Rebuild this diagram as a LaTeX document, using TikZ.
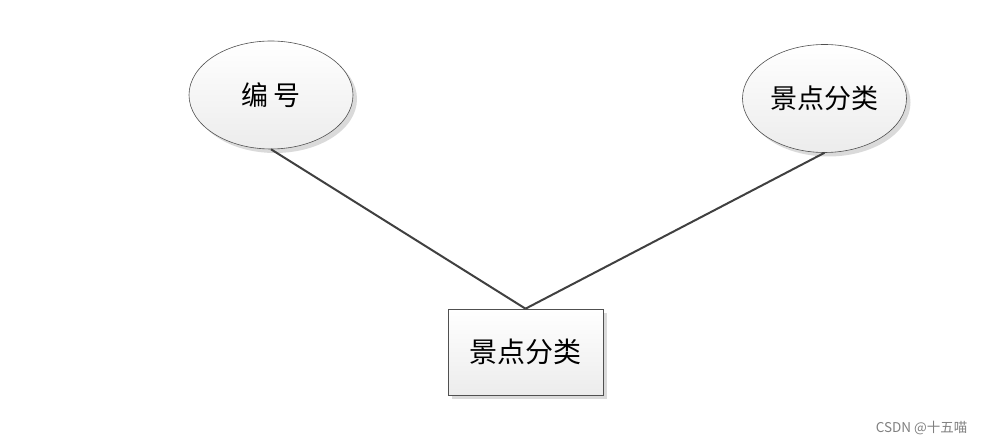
\documentclass[tikz,border=0pt]{standalone}
\usepackage{fontspec}
\newfontfamily\cjkfont{Noto Sans CJK SC}
\usetikzlibrary{shapes.geometric,shadows}
\begin{document}
\begin{tikzpicture}[x=1pt, y=1pt,
    attrib/.style={ellipse, draw=borderColour, line width=0.6pt,
        top color=white, bottom color=fillColourLow,
        minimum width=164pt, minimum height=108pt, inner sep=0pt,
        drop shadow={shadow xshift=4pt, shadow yshift=-4pt, fill=shadowColour, opacity=1},
        font=\cjkfont\fontsize{27}{32}\selectfont},
    entity/.style={rectangle, draw=borderColour, line width=0.6pt,
        top color=white, bottom color=fillColourLow,
        minimum width=155pt, minimum height=86pt, inner sep=0pt,
        drop shadow={shadow xshift=4pt, shadow yshift=-4pt, fill=shadowColour, opacity=1},
        font=\cjkfont\fontsize{28}{33}\selectfont},
    link/.style={draw=linkColour, line width=2pt}]
    \definecolor{borderColour}{HTML}{505050}
    \definecolor{fillColourLow}{HTML}{ECECEC}
    \definecolor{shadowColour}{HTML}{DADADA}
    \definecolor{linkColour}{HTML}{404040}

    \useasboundingbox (0,0) rectangle (986,444);

    % Draw attribute ellipses
    \node[attrib] (number) at (271,349) {编\,号};
    \node[attrib] (typeattr) at (824.5,345.5) {景点分类};

    % Draw entity box
    \node[entity] (category) at (525.5,92) {景点分类};

    % Connect attributes to entity
    \draw[link] (number.south) -- (category.north);
    \draw[link] (typeattr.south) -- (category.north);

    % Watermark
    \node[anchor=east, text=gray, font=\cjkfont\fontsize{13.5}{16}\selectfont] (mark) at (971,16) {CSDN @十五喵};

\end{tikzpicture}
\end{document}
